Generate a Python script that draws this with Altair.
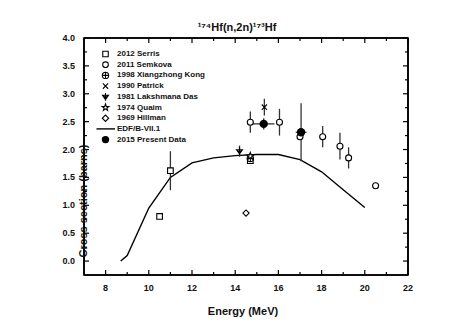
import altair as alt
import pandas as pd

W, H = 324, 237
FONT = "Liberation Sans"

# ---------------- data ----------------
serris_e = [10.5, 11.0, 14.7]
serris_v = [0.80, 1.62, 1.80]
serris_err = [0.05, 0.35, 0.05]

semkova_e = [14.7, 16.05, 17.0, 18.05, 18.85, 19.25, 20.5]
semkova_v = [2.49, 2.49, 2.23, 2.23, 2.06, 1.85, 1.35]
semkova_err = [0.19, 0.24, 0.05, 0.19, 0.24, 0.19, 0.04]

kong_e = [14.7]
kong_v = [1.84]
kong_err = [0.09]

patrick_e = [15.35]
patrick_v = [2.76]
patrick_err = [0.15]

das_e = [14.2]
das_v = [1.97]
das_err = [0.1]

quaim_e = [14.7]
quaim_v = [1.88]
quaim_err = [0.05]

hillman_e = [14.5]
hillman_v = [0.86]
hillman_err = [0.0]

present_e = [15.32, 17.05]
present_v = [2.46, 2.31]
present_err = [0.1, 0.52]
present_xerr = [0.5, 0.25]

edf_e = [8.7, 9.0, 10.0, 11.0, 12.0, 13.0, 14.0, 15.0, 16.0, 17.0, 18.0, 19.0, 20.0]
edf_v = [0.0, 0.1, 0.95, 1.5, 1.76, 1.85, 1.89, 1.91, 1.91, 1.82, 1.6, 1.28, 0.96]

legend_labels = ["2012 Serris", "2011 Semkova", "1998 Xiangzhong Kong", "1990 Patrick",
                 "1981 Lakshmana Das", "1974 Quaim", "1969 Hillman", "EDF/B-VII.1",
                 "2015 Present Data"]

x_major = [8, 10, 12, 14, 16, 18, 20, 22]
x_minor = [9, 11, 13, 15, 17, 19, 21]
y_major = [0.0, 0.5, 1.0, 1.5, 2.0, 2.5, 3.0, 3.5, 4.0]
y_minor = [0.25, 0.75, 1.25, 1.75, 2.25, 2.75, 3.25, 3.75]
x_labels = ["8", "10", "12", "14", "16", "18", "20", "22"]
y_labels = ["0.0", "0.5", "1.0", "1.5", "2.0", "2.5", "3.0", "3.5", "4.0"]

# ---------------- shapes ----------------
CIRCLE_PLUS = "M-1,0A1,1 0 1,1 1,0A1,1 0 1,1 -1,0ZM-1,0L1,0M0,-1L0,1"
XSHAPE = "M-1,-1L1,1M-1,1L1,-1"
DAS = "M-1,-0.5L1,-0.5L0,0.9ZM0,-1.3L0,1.3M-1,-0.5L0,0.3L1,-0.5"
STAR = ("M0,-1L0.235,-0.324L0.951,-0.309L0.38,0.124L0.588,0.809L0,0.4"
        "L-0.588,0.809L-0.38,0.124L-0.951,-0.309L-0.235,-0.324Z")

XD = [7, 22]
YD = [-0.25, 4.0]
xs = alt.Scale(domain=XD, nice=False, zero=False)
ys = alt.Scale(domain=YD, nice=False, zero=False)
EPP = (XD[1] - XD[0]) / W   # energy per pixel
VPP = (YD[1] - YD[0]) / H   # value per pixel


def px2e(px):
    return XD[0] + px * EPP


def py2v(py):
    return YD[1] - py * VPP


def ex(f):
    return alt.X(f, type="quantitative", scale=xs, axis=None)


def ey(f):
    return alt.Y(f, type="quantitative", scale=ys, axis=None)


def df(e, v, err):
    return pd.DataFrame({"E": e, "v": v, "lo": [a - b for a, b in zip(v, err)],
                         "hi": [a + b for a, b in zip(v, err)]})


series = [
    (df(serris_e, serris_v, serris_err), "square", 32, "white"),
    (df(semkova_e, semkova_v, semkova_err), "circle", 36, "white"),
    (df(kong_e, kong_v, kong_err), CIRCLE_PLUS, 40, "white"),
    (df(patrick_e, patrick_v, patrick_err), XSHAPE, 28, "none"),
    (df(das_e, das_v, das_err), DAS, 36, "white"),
    (df(quaim_e, quaim_v, quaim_err), STAR, 55, "white"),
    (df(hillman_e, hillman_v, hillman_err), "diamond", 40, "white"),
]

layers = []

# ---------------- frame ----------------
frame = pd.DataFrame({"fx0": [XD[0], XD[0], XD[0], XD[1]], "fx1": [XD[1], XD[1], XD[0], XD[1]],
                      "fy0": [YD[0], YD[1], YD[0], YD[0]], "fy1": [YD[0], YD[1], YD[1], YD[1]]})
layers.append(alt.Chart(frame).mark_rule(color="black", strokeWidth=1.6).encode(
    x=ex("fx0"), x2="fx1:Q", y=ey("fy0"), y2="fy1:Q"))


# ---------------- inward ticks (lengths converted from pixels) ----------------
def xticks(vals, ln):
    d = pd.DataFrame({"t": [float(v) for v in vals]})
    d["b0"] = YD[0]
    d["b1"] = YD[0] + ln * VPP
    d["t0"] = YD[1]
    d["t1"] = YD[1] - ln * VPP
    b = alt.Chart(d).mark_rule(color="black", strokeWidth=1.2).encode(
        x=ex("t"), y=ey("b0"), y2="b1:Q")
    t = alt.Chart(d).mark_rule(color="black", strokeWidth=1.2).encode(
        x=ex("t"), y=ey("t0"), y2="t1:Q")
    return [b, t]


def yticks(vals, ln):
    d = pd.DataFrame({"t": [float(v) for v in vals]})
    d["l0"] = XD[0]
    d["l1"] = XD[0] + ln * EPP
    d["r0"] = XD[1]
    d["r1"] = XD[1] - ln * EPP
    l = alt.Chart(d).mark_rule(color="black", strokeWidth=1.2).encode(
        y=ey("t"), x=ex("l0"), x2="l1:Q")
    r = alt.Chart(d).mark_rule(color="black", strokeWidth=1.2).encode(
        y=ey("t"), x=ex("r0"), x2="r1:Q")
    return [l, r]


layers += xticks(x_major, 5) + xticks(x_minor, 3) + yticks(y_major, 5) + yticks(y_minor, 3)

# ---------------- tick labels and axis titles (text) ----------------
xl = pd.DataFrame({"t": x_major, "lab": x_labels, "b": YD[0]})
layers.append(alt.Chart(xl).mark_text(align="center", baseline="middle", dy=13, font=FONT,
                                      fontWeight="bold", fontSize=9, color="#111").encode(
    x=ex("t"), y=ey("b"), text="lab:N"))
yl = pd.DataFrame({"t": y_major, "lab": y_labels, "l": XD[0]})
layers.append(alt.Chart(yl).mark_text(align="right", baseline="middle", dx=-9, font=FONT,
                                      fontWeight="bold", fontSize=9, color="#111").encode(
    x=ex("l"), y=ey("t"), text="lab:N"))
xt = pd.DataFrame({"c": [px2e(159)], "b": [YD[0]], "lab": ["Energy (MeV)"]})
layers.append(alt.Chart(xt).mark_text(align="center", baseline="middle", dy=37, font=FONT,
                                      fontWeight="bold", fontSize=11, color="#111").encode(
    x=ex("c"), y=ey("b"), text="lab:N"))
yt = pd.DataFrame({"l": [XD[0]], "c": [py2v(117)], "lab": ["Cross section (barns)"]})
layers.append(alt.Chart(yt).mark_text(align="center", baseline="middle", dx=-46, angle=270,
                                      font=FONT, fontWeight="bold", fontSize=11,
                                      color="#111").encode(
    x=ex("l"), y=ey("c"), text="lab:N"))

# EDF curve
edf = pd.DataFrame({"E": edf_e, "v": edf_v})
layers.append(alt.Chart(edf).mark_line(color="black", strokeWidth=1.4).encode(
    x=ex("E"), y=ey("v")))

# error bars
for d, shape, size, fill in series:
    layers.append(alt.Chart(d).mark_rule(color="#333", strokeWidth=1.3).encode(
        x=ex("E"), y=ey("lo"), y2="hi:Q"))
pres = pd.DataFrame({"E": present_e, "v": present_v,
                     "lo": [a - b for a, b in zip(present_v, present_err)],
                     "hi": [a + b for a, b in zip(present_v, present_err)],
                     "xl": [a - b for a, b in zip(present_e, present_xerr)],
                     "xh": [a + b for a, b in zip(present_e, present_xerr)]})
layers.append(alt.Chart(pres).mark_rule(color="#333", strokeWidth=1.3).encode(
    x=ex("E"), y=ey("lo"), y2="hi:Q"))
layers.append(alt.Chart(pres).mark_rule(color="#333", strokeWidth=1.3).encode(
    x=ex("xl"), x2="xh:Q", y=ey("v")))

# markers
for d, shape, size, fill in series:
    layers.append(alt.Chart(d).mark_point(shape=shape, size=size, filled=False, fill=fill,
                                          fillOpacity=1, stroke="black", strokeWidth=1.1,
                                          opacity=1).encode(x=ex("E"), y=ey("v")))
layers.append(alt.Chart(pres).mark_point(shape="circle", size=70, filled=True, color="black",
                                         opacity=1).encode(x=ex("E"), y=ey("v")))

# ---------------- legend (positions converted from plot pixels) ----------------
row_px = [16 + i * 10.7 for i in range(len(legend_labels))]
leg = pd.DataFrame({"label": legend_labels,
                    "v": [py2v(p) for p in row_px],
                    "E": px2e(21.5), "Et": px2e(33.0),
                    "El": px2e(12.5), "Er": px2e(31.0)})
layers.append(alt.Chart(leg).mark_text(align="left", baseline="middle", font=FONT,
                                       fontWeight="bold", fontSize=8, color="#111").encode(
    x=ex("Et"), y=ey("v"), text="label:N"))
sym_shapes = ["square", "circle", CIRCLE_PLUS, XSHAPE, DAS, STAR, "diamond"]
sym_sizes = [30, 32, 40, 28, 36, 50, 40]
for i, (sh, sz) in enumerate(zip(sym_shapes, sym_sizes)):
    one = leg.iloc[[i]]
    layers.append(alt.Chart(one).mark_point(shape=sh, size=sz, filled=False, fill="white",
                                            fillOpacity=1, stroke="black", strokeWidth=1.1,
                                            opacity=1).encode(x=ex("E"), y=ey("v")))
layers.append(alt.Chart(leg.iloc[[7]]).mark_rule(color="black", strokeWidth=1.4).encode(
    x=ex("El"), x2="Er:Q", y=ey("v")))
layers.append(alt.Chart(leg.iloc[[8]]).mark_point(shape="circle", size=55, filled=True,
                                                  color="black", opacity=1).encode(
    x=ex("E"), y=ey("v")))

chart = alt.layer(*layers).properties(
    width=W, height=H,
    background="white",
    title=alt.Title("¹⁷⁴Hf(n,2n)¹⁷³Hf", font=FONT, fontSize=11, fontWeight="bold",
                    color="#111", offset=1, dx=-9),
    autosize=alt.AutoSizeParams(type="none"),
    padding={"left": 84, "top": 38, "right": 474 - 84 - W, "bottom": 331 - 38 - H},
).configure_view(stroke="black", strokeWidth=1.6)

chart.save("out.html", embed_options={"renderer": "svg", "actions": False})
